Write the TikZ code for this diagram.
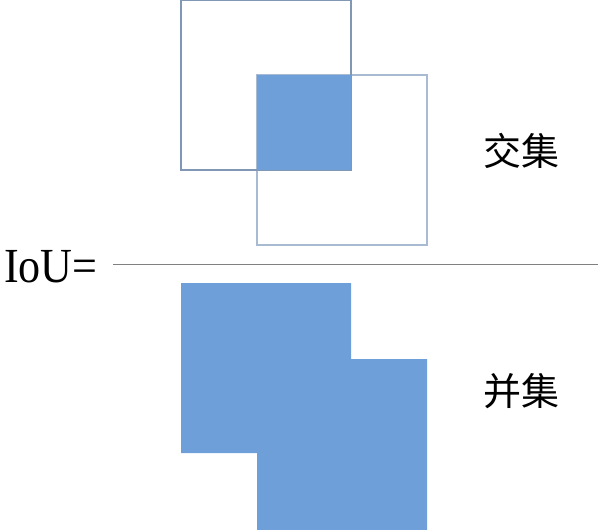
\documentclass[tikz,border=0pt]{standalone}
\usepackage{fontspec}
\setmainfont{Liberation Serif}
\newfontfamily\cjk{Noto Sans CJK SC}
\definecolor{fillblue}{HTML}{6F9FD8}
\definecolor{edgeA}{HTML}{8098B4}
\definecolor{edgeB}{HTML}{A8BBD3}
\definecolor{rulegray}{HTML}{808080}
\begin{document}
\begin{tikzpicture}[x=1pt,y=-1pt,
  boxA/.style={draw=edgeA,line width=1.1pt},
  boxB/.style={draw=edgeB,line width=1.1pt},
  area/.style={fill=fillblue},
  lbl/.style={inner sep=0pt,font=\fontsize{38}{40}\selectfont\cjk}]
\useasboundingbox (0,0) rectangle (598,530);
\draw[boxB] (257,75) rectangle (427,245);
\draw[boxA] (181,0.6) rectangle (351,170);
\fill[area] (257,75) rectangle (351,170);
\fill[area] (181,283) -- (351,283) -- (351,359) -- (427,359) -- (427,530) -- (257,530) -- (257,453) -- (181,453) -- cycle;
\coordinate (ls) at (113,264.5);
\coordinate (le) at (598,264.5);
\draw[rulegray,line width=1.5pt] (ls) -- (le);
\node[inner sep=0pt,anchor=west] (iou) at (4,267) {\scalebox{0.9}[1]{\fontsize{49}{51}\selectfont IoU=}};
\node[lbl] (inter) at (521,151) {交集};
\node[lbl] (union) at (521,391) {并集};
\end{tikzpicture}
\end{document}
